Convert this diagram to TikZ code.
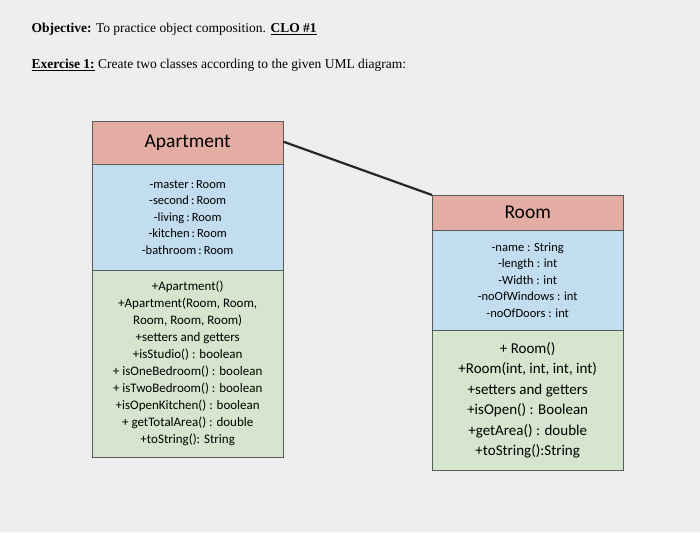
\documentclass[tikz,border=0pt]{standalone}
\usepackage{fontspec}
\setmainfont{Liberation Serif}
\newfontfamily\calfont{Carlito}
\begin{document}
\begin{tikzpicture}[x=1pt,y=-1pt,
  hdr/.style={draw=gray!70!black,fill=pinkh,minimum width=191pt,anchor=north west,inner sep=0pt,font=\calfont\fontsize{19.5}{20}\selectfont},
  attr/.style={draw=gray!70!black,fill=blueh,minimum width=191pt,anchor=north west,inner sep=0pt,align=center,font=\calfont\fontsize{12.5}{16.5}\selectfont},
  meth/.style={draw=gray!70!black,fill=greenh,minimum width=191pt,anchor=north west,inner sep=0pt,align=center,font=\calfont\fontsize{13}{17}\selectfont}]
\definecolor{pinkh}{HTML}{E3ADA3}
\definecolor{blueh}{HTML}{C2DCF0}
\definecolor{greenh}{HTML}{D6E5CD}
\definecolor{pagebg}{HTML}{EEEEEF}
\fill[pagebg] (0,0) rectangle (700,532);
\useasboundingbox (0,0) rectangle (700,532);
\node[anchor=west,font=\fontsize{13.5}{14}\selectfont] (obj) at (28,29) {\textbf{Objective:} To practice object composition. \textbf{\underline{CLO \#1}}};
\node[anchor=west,font=\fontsize{13.5}{14}\selectfont] (ex) at (28,65) {\textbf{\underline{Exercise 1:}} Create two classes according to the given UML diagram:};
% Apartment
\node[hdr,minimum height=43pt] (ah) at (92,121) {Apartment};
\node[attr,minimum height=106pt] (aa) at (92,164) {-master\,:\,Room\\-second\,:\,Room\\-living\,:\,Room\\-kitchen\,:\,Room\\-bathroom\,:\,Room};
\node[meth,minimum height=187pt] (am) at (92,270) {+Apartment()\\+Apartment(Room, Room,\\Room, Room, Room)\\+setters and getters\\+isStudio() : boolean\\+ isOneBedroom() : boolean\\+ isTwoBedroom() : boolean\\+isOpenKitchen() : boolean\\+ getTotalArea() : double\\+toString(): String};
% Room
\node[hdr,minimum height=35pt] (rh) at (432,195) {Room};
\node[attr,minimum height=100pt] (ra) at (432,230) {-name : String\\-length : int\\-Width : int\\-noOfWindows : int\\-noOfDoors : int};
\node[meth,minimum height=140pt,font=\calfont\fontsize{15}{20.5}\selectfont] (rm) at (432,330) {+ Room()\\+Room(int, int, int, int)\\+setters and getters\\+isOpen() : Boolean\\+getArea() : double\\+toString():String};
\draw[line width=2.2pt,black!85] (ah.east) ++(0,-1) coordinate (s) -- (rh.north west);
\end{tikzpicture}
\end{document}
